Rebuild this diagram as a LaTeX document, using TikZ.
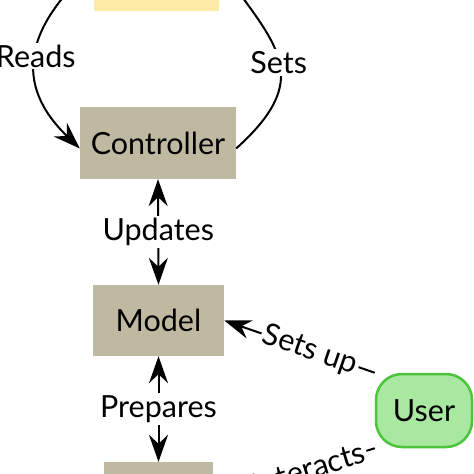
\documentclass[tikz,border=0pt]{standalone}
\usepackage{fontspec}
\setmainfont{Lato}
\usetikzlibrary{arrows.meta}
\definecolor{boxtan}{HTML}{C0B9A2}
\definecolor{boxyellow}{HTML}{FCEAA6}
\definecolor{userfill}{HTML}{A9E8A0}
\definecolor{userdraw}{HTML}{4CC43C}
\tikzset{
  tip/.tip={Stealth[length=27pt,width=19pt,inset=9pt]},
  comp/.style={fill=boxtan, inner sep=0pt, font=\fontsize{30.5}{36}\selectfont},
  actor/.style={fill=userfill, draw=userdraw, line width=2.5pt, rounded corners=26pt, inner sep=0pt,
    minimum width=96pt, minimum height=73pt, font=\fontsize{30.5}{36}\selectfont},
  conn/.style={line width=2pt, black},
  onearr/.style={conn, -tip},
  twoarr/.style={conn, tip-tip},
  lbl/.style={fill=white, inner sep=2pt, font=\fontsize{30.5}{36}\selectfont}
}
\begin{document}
\begin{tikzpicture}[x=1pt, y=-1pt]
\useasboundingbox (0,0) rectangle (474,474);
\fill[white] (0,0) rectangle (474,474);
\node[comp, fill=boxyellow, minimum width=125pt, minimum height=91pt] (top) at (156.5,-34.5) {};
\node[comp, minimum width=156pt, minimum height=72pt] (ctrl) at (158,143) {Controller};
\node[comp, minimum width=131pt, minimum height=71pt] (model) at (158.5,320.5) {Model};
\node[comp, minimum width=109pt, minimum height=72pt] (bottom) at (158.5,498) {};
\node[actor] (user) at (424,410.5) {User};

\draw[onearr] (top.west) to[out=222, in=136, looseness=1.3] node[lbl]{Reads} (ctrl.184);
\draw[onearr] (ctrl.-4) to[out=42, in=-54, looseness=1.42] node[lbl]{Sets} (top.east);
\draw[twoarr] (ctrl.south) -- node[lbl]{Updates} (model.north);
\draw[twoarr] (model.south) -- node[lbl]{Prepares} (bottom.north);
\draw[onearr] (user.north west) -- node[lbl, sloped, pos=0.43]{Sets up} (model.east);
\draw[onearr] (user.south west) -- node[lbl, sloped, pos=0.41]{Interacts} (bottom.east);
\end{tikzpicture}
\end{document}
